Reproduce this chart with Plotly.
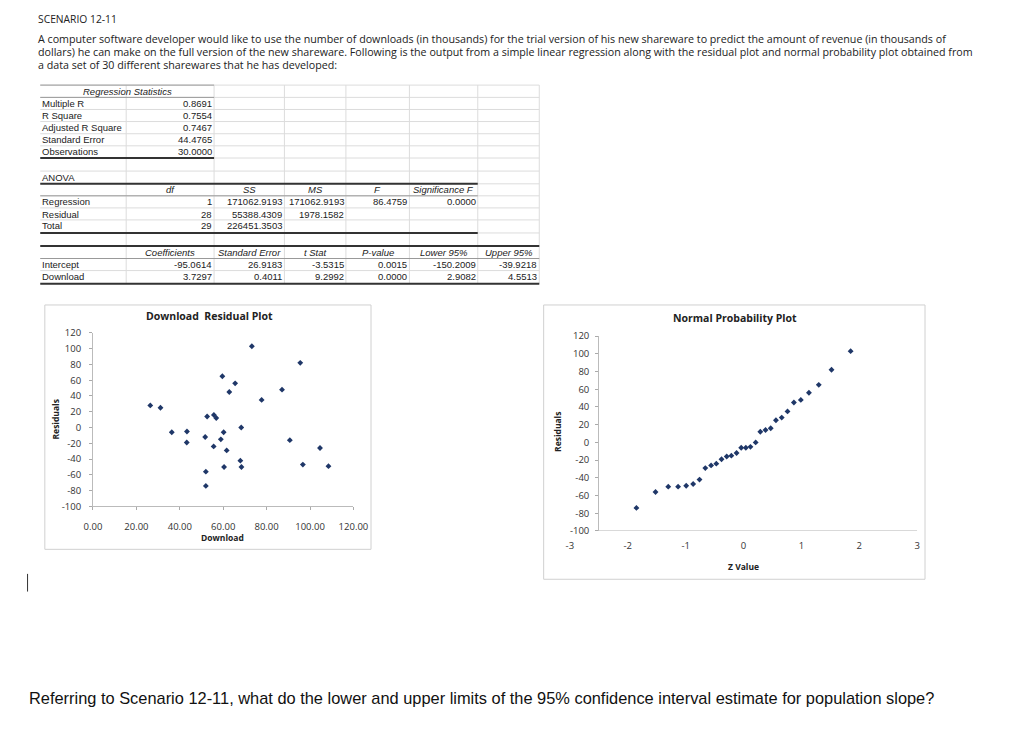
import plotly.graph_objects as go

W, H = 1024, 741

# ---------------- data ----------------
download = [26.4, 31.1, 36.3, 43.3, 43.2, 51.7, 52.6, 52.0, 52.0, 55.6,
            55.7, 56.8, 58.9, 59.6, 60.2, 60.4, 61.6, 62.8, 65.5, 67.9,
            68.3, 68.4, 73.2, 77.7, 87.1, 90.7, 95.5, 96.7, 104.6, 108.5]
residuals = [28, 25, -6, -5, -19, -12, 14, -56, -74, -24,
             16, 12, -15, 65, -6, -50, -29, 45, 56, -42,
             0, -50, 103, 35, 48, -16, 82, -47, -26, -49]

z_values = [-1.85, -1.52, -1.30, -1.13, -0.99, -0.87, -0.76, -0.66, -0.56, -0.47,
            -0.38, -0.29, -0.21, -0.12, -0.04, 0.04, 0.12, 0.21, 0.29, 0.38,
            0.47, 0.56, 0.66, 0.76, 0.87, 0.99, 1.13, 1.30, 1.52, 1.85]
sorted_residuals = [-74, -56, -50, -50, -49, -47, -42, -29, -26, -24,
                    -19, -16, -15, -12, -6, -6, -5, 0, 12, 14,
                    16, 25, 28, 35, 45, 48, 56, 65, 82, 103]

resid_ticks = [-100, -80, -60, -40, -20, 0, 20, 40, 60, 80, 100, 120]
resid_ticktext = ["-100", "-80", "-60", "-40", "-20", "0", "20", "40", "60", "80", "100", "120"]
download_ticks = [0, 20, 40, 60, 80, 100, 120]
download_ticktext = ["0.00", "20.00", "40.00", "60.00", "80.00", "100.00", "120.00"]
z_ticks = [-3, -2, -1, 0, 1, 2, 3]
z_ticktext = ["-3", "-2", "-1", "0", "1", "2", "3"]

reg_stats_labels = ["Multiple R", "R Square", "Adjusted R Square", "Standard Error", "Observations"]
reg_stats_values = ["0.8691", "0.7554", "0.7467", "44.4765", "30.0000"]

anova_headers = ["df", "SS", "MS", "F", "Significance F"]
anova_rows = ["Regression", "Residual", "Total"]
anova_values = [["1", "171062.9193", "171062.9193", "86.4759", "0.0000"],
                ["28", "55388.4309", "1978.1582", "", ""],
                ["29", "226451.3503", "", "", ""]]

coef_headers = ["Coefficients", "Standard Error", "t Stat", "P-value", "Lower 95%", "Upper 95%"]
coef_rows = ["Intercept", "Download"]
coef_values = [["-95.0614", "26.9183", "-3.5315", "0.0015", "-150.2009", "-39.9218"],
               ["3.7297", "0.4011", "9.2992", "0.0000", "2.9082", "4.5513"]]

scenario_title = "SCENARIO 12-11"
scenario_lines = [
    "A computer software developer would like to use the number of downloads (in thousands) for the trial version of his new shareware to predict the amount of revenue (in thousands of",
    "dollars) he can make on the full version of the new shareware. Following is the output from a simple linear regression along with the residual plot and normal probability plot obtained from",
    "a data set of 30 different sharewares that he has developed:",
]
question = "Referring to Scenario 12-11, what do the lower and upper limits of the 95% confidence interval estimate for population slope?"


def X(p):
    return p / W


def Y(p):
    return 1 - p / H


MARK = "#1f3768"
fig = go.Figure()
fig.add_trace(go.Scatter(x=download, y=residuals, mode="markers", xaxis="x", yaxis="y",
                         marker=dict(symbol="diamond", size=4.5, color=MARK), showlegend=False))
fig.add_trace(go.Scatter(x=z_values, y=sorted_residuals, mode="markers", xaxis="x2", yaxis="y2",
                         marker=dict(symbol="diamond", size=4.5, color=MARK), showlegend=False))

tickfont = dict(family="Open Sans", size=9.5, color="#333")
common = dict(showgrid=False, zeroline=False, tickfont=tickfont, tickcolor="#aaa",
              linecolor="#bbb", linewidth=1, fixedrange=True, tickmode="array")

fig.update_layout(
    width=W, height=H, margin=dict(l=0, r=0, t=0, b=0),
    paper_bgcolor="white", plot_bgcolor="rgba(0,0,0,0)",
    xaxis=dict(domain=[X(86), X(352.7)], range=[0, 120], tickvals=download_ticks,
               ticktext=download_ticktext, anchor="y", showline=True, ticks="outside",
               ticklen=3, ticklabelstandoff=8, **common),
    yaxis=dict(domain=[Y(508.3), Y(331.7)], range=[-100, 120], tickvals=resid_ticks,
               ticktext=resid_ticktext, anchor="x", showline=True, ticks="outside",
               ticklen=3, ticklabelstandoff=6, **common),
    xaxis2=dict(domain=[X(574.3), X(930)], range=[-3, 3], tickvals=z_ticks,
                ticktext=z_ticktext, anchor="y2", showline=False, ticks="",
                ticklabelstandoff=8, **common),
    yaxis2=dict(domain=[Y(533.3), Y(335)], range=[-100, 120], tickvals=resid_ticks,
                ticktext=resid_ticktext, anchor="free", position=X(603.3), showline=True,
                ticks="outside", ticklen=3, ticklabelstandoff=4, **common),
)

shapes = []
ann = []

# x-axis line of the normal probability plot (starts at the y axis)
shapes.append(dict(type="line", xref="x2", yref="y2", x0=-2.5, x1=3, y0=-100, y1=-100,
                   line=dict(color="#bbb", width=1)))

# chart frames
shapes.append(dict(type="rect", xref="paper", yref="paper", x0=X(36.7), x1=X(370.7),
                   y0=Y(552), y1=Y(303.3), line=dict(color="#d0d0d0", width=1)))
shapes.append(dict(type="rect", xref="paper", yref="paper", x0=X(547.5), x1=X(938),
                   y0=Y(582.5), y1=Y(303.3), line=dict(color="#d0d0d0", width=1)))

# text cursor
shapes.append(dict(type="line", xref="paper", yref="paper", x0=X(19), x1=X(19),
                   y0=Y(595), y1=Y(577), line=dict(color="#333", width=1)))


def text(x, y, s, size=10, family="Open Sans", xanchor="left", color="#222", angle=0):
    ann.append(dict(x=X(x), y=Y(y), xref="paper", yref="paper", text=s, showarrow=False,
                    xanchor=xanchor, yanchor="middle", textangle=angle, borderpad=0,
                    borderwidth=0, font=dict(family=family, size=size, color=color)))


# chart titles
text(205, 315, "<b>Download  Residual Plot</b>", size=10.5, xanchor="center")
text(219, 540, "<b>Download</b>", size=8.5, xanchor="center")
text(48, 420, "<b>Residuals</b>", size=8.5, xanchor="center", angle=-90)
text(743, 316.7, "<b>Normal Probability Plot</b>", size=10.5, xanchor="center")
text(752, 569, "<b>Z Value</b>", size=8.5, xanchor="center")
text(561.7, 433, "<b>Residuals</b>", size=8.5, xanchor="center", angle=-90)

# scenario text
text(30, 12, scenario_title, size=10.3)
for i, line in enumerate(scenario_lines):
    text(30, 33 + 13 * i, line, size=10.7)

# question
text(20, 703, question, size=16.4, family="Liberation Sans", color="#111")

# ---------------- table ----------------
cols = [32, 120, 210, 282, 345, 410, 480, 543]
bounds = [79.5, 92, 104.3, 116.6, 129, 141.3, 153.7, 167, 180, 192.2, 204.5,
          216.7, 230, 243.3, 256, 268.3, 281.7]
GRID = "#dcdcdc"
for yb in bounds:
    shapes.append(dict(type="line", xref="paper", yref="paper", x0=X(32), x1=X(543),
                       y0=Y(yb), y1=Y(yb), line=dict(color=GRID, width=1)))
for xc in cols[1:]:
    shapes.append(dict(type="line", xref="paper", yref="paper", x0=X(xc), x1=X(xc),
                       y0=Y(281.7), y1=Y(79.5), line=dict(color=GRID, width=1)))


def hline(y, x0, x1, color="#333", width=2):
    shapes.append(dict(type="line", xref="paper", yref="paper", x0=X(x0), x1=X(x1),
                       y0=Y(y), y1=Y(y), line=dict(color=color, width=width)))


hline(79.5, 32, 210, "#999", 1)
hline(92, 32, 210, "#999", 1)
hline(153.7, 32, 210)
hline(180, 32, 480)
hline(192.2, 32, 480, "#999", 1)
hline(230, 32, 480)
hline(243.3, 32, 543)
hline(256, 32, 543, "#999", 1)
hline(281.7, 32, 543)

TF = "Liberation Sans"
TS = 9.5
centers = [(cols[i] + cols[i + 1]) / 2 for i in range(len(cols) - 1)]

text(121, 86, "<i>Regression Statistics</i>", TS, TF, "center")
stat_rows_y = [98.3, 110.3, 122.7, 135.3, 147]
for lab, val, yy in zip(reg_stats_labels, reg_stats_values, stat_rows_y):
    text(34, yy, lab, TS, TF)
    text(cols[2] - 2, yy, val, TS, TF, "right")

text(34, 173.7, "ANOVA", TS, TF)
for j, h in enumerate(anova_headers):
    text(centers[j + 1], 186, "<i>" + h + "</i>", TS, TF, "center")
anova_y = [198.3, 210.7, 222.7]
for lab, vals, yy in zip(anova_rows, anova_values, anova_y):
    text(34, yy, lab, TS, TF)
    for j, v in enumerate(vals):
        if v:
            text(cols[j + 2] - 2, yy, v, TS, TF, "right")

for j, h in enumerate(coef_headers):
    text(centers[j + 1], 249.7, "<i>" + h + "</i>", TS, TF, "center")
coef_y = [262, 274.3]
for lab, vals, yy in zip(coef_rows, coef_values, coef_y):
    text(34, yy, lab, TS, TF)
    for j, v in enumerate(vals):
        text(cols[j + 2] - 2, yy, v, TS, TF, "right")

fig.update_layout(shapes=shapes, annotations=ann)
fig.write_html("out.html", config={"displayModeBar": False},
               post_script="document.body.style.margin='0';document.body.style.padding='0';document.body.style.overflow='hidden';")
